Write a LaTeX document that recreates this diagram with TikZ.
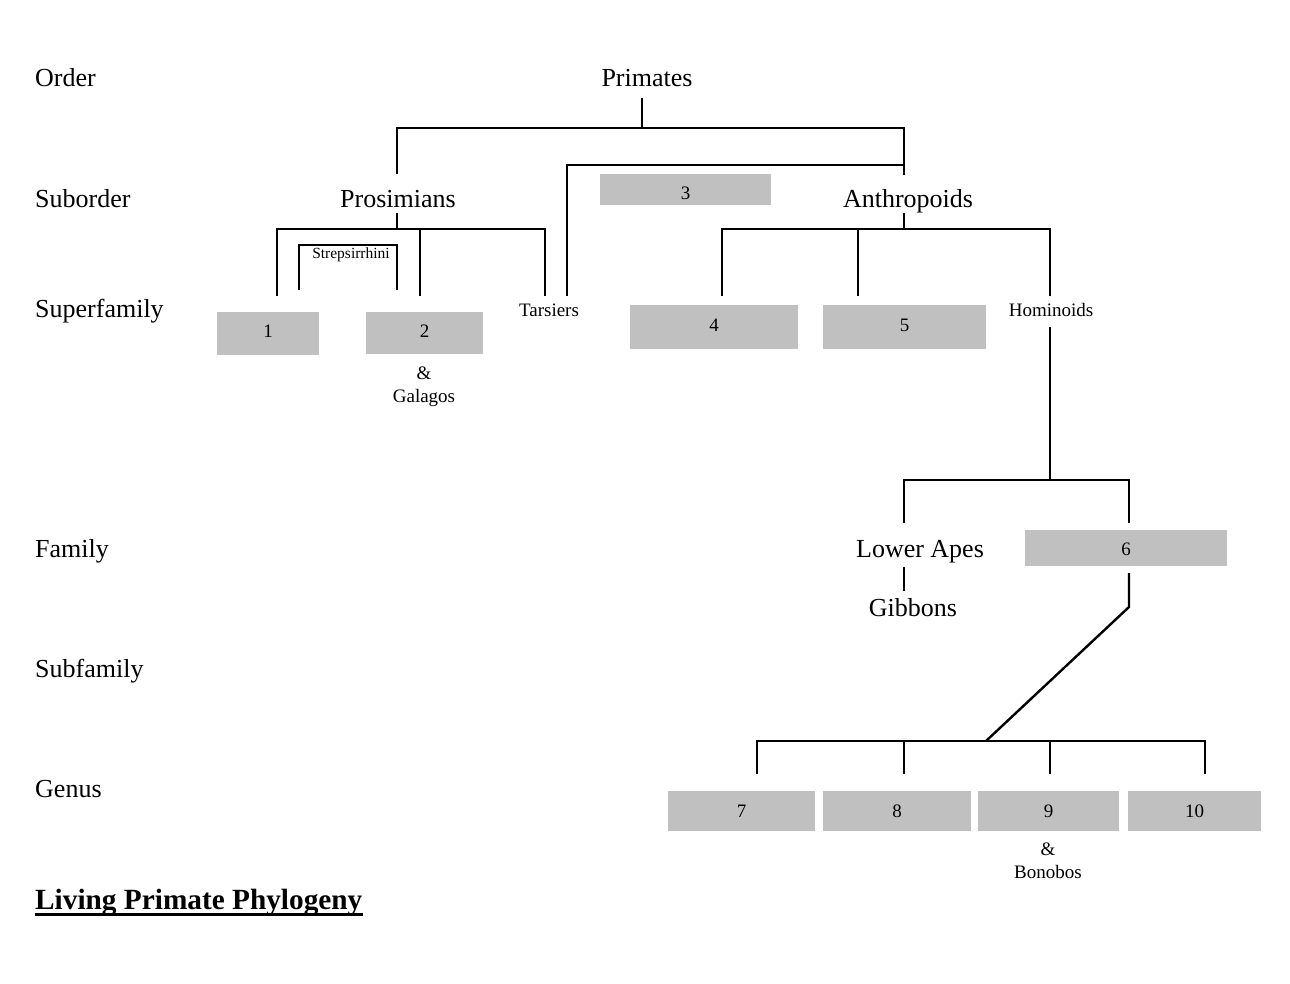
\documentclass[tikz,border=0pt]{standalone}
\usepackage{fontspec}
\setmainfont{Liberation Serif}
\begin{document}
\begin{tikzpicture}[x=1pt,y=-1pt,
  big/.style={font=\fontsize{26}{28}\selectfont, inner sep=0pt, anchor=base},
  small/.style={font=\fontsize{19}{22}\selectfont, inner sep=0pt, anchor=base},
  tiny/.style={font=\fontsize{15.5}{18}\selectfont, inner sep=0pt, anchor=base},
  rank/.style={big, anchor=base west},
  gbox/.style={fill=boxgray, draw=none, inner sep=0pt, font=\fontsize{19}{22}\selectfont, text depth=0pt},
  dshift/.style={text height={12.8pt+2*(#1)}},
  thk/.style={line width=2.4pt},
  thn/.style={line width=1.1pt}]
\definecolor{boxgray}{RGB}{192,192,192}
\useasboundingbox (0,0) rectangle (1290,984);
% rank labels (baselines)
\node[rank] (lOrder) at (35,87) {Order};
\node[rank] (lSub) at (35,208) {Suborder};
\node[rank] (lSuper) at (35,317) {Superfamily};
\node[rank] (lFam) at (35,557) {Family};
\node[rank] (lSubf) at (35,677) {Subfamily};
\node[rank] (lGen) at (35,797) {Genus};
\node[anchor=base west, inner sep=0pt, font=\fontsize{29.3}{32}\selectfont\bfseries] (title) at (35,909.5) {Living Primate Phylogeny};
\draw[line width=2.2pt] ([yshift=-5pt]title.base west) -- ([yshift=-5pt]title.base east);
% taxa
\node[big] (prim) at (647,87) {Primates};
\node[big] (pros) at (398,208) {Prosimians};
\node[big] (anth) at (908,208) {Anthropoids};
\node[small] (tars) at (549,316.3) {Tarsiers};
\node[small] (homi) at (1051,316.3) {Hominoids};
\node[big] (lape) at (920,557) {Lower Apes};
\node[big] (gibb) at (913,616) {Gibbons};
\node[tiny] (strep) at (351,258.1) {Strepsirrhini};
% boxes
\node[gbox, dshift=-2.5, minimum width=102pt, minimum height=43pt] (b1) at (268,333.5) {1};
\node[gbox, dshift=-2, minimum width=117pt, minimum height=42pt] (b2) at (424.5,333) {2};
\node[gbox, dshift=3.5, minimum width=171pt, minimum height=31pt] (b3) at (685.5,189.5) {3};
\node[gbox, dshift=-2, minimum width=168pt, minimum height=44pt] (b4) at (714,327) {4};
\node[gbox, dshift=-2, minimum width=163pt, minimum height=44pt] (b5) at (904.5,327) {5};
\node[gbox, dshift=1, minimum width=202pt, minimum height=36pt] (b6) at (1126,548) {6};
\node[gbox, dshift=0, minimum width=147pt, minimum height=40pt] (b7) at (741.5,811) {7};
\node[gbox, dshift=0, minimum width=148pt, minimum height=40pt] (b8) at (897,811) {8};
\node[gbox, dshift=0, minimum width=141pt, minimum height=40pt] (b9) at (1048.5,811) {9};
\node[gbox, dshift=0, minimum width=133pt, minimum height=40pt] (b10) at (1194.5,811) {10};
\node[small] (amp2) at (424,379.3) {\&};
\node[small] (gala) at (424,402.3) {Galagos};
\node[small] (amp9) at (1048,855.3) {\&};
\node[small] (bono) at (1048,878.3) {Bonobos};
% junction coordinates
\coordinate (jPrim) at (642,128);
\coordinate (jPros) at (397,229);
\coordinate (jAnth) at (904,229);
\coordinate (jHomi) at (1050,480);
\coordinate (jGen) at (986,741);
\coordinate (tEnd) at (567,296);
\coordinate (tTop) at (567,165);
\coordinate (aTop) at (904,165);
% Primates
\draw[thk] (642,98) -- (jPrim);
\draw[thk] (397,174) |- (jPrim) -| (904,175);
% Tarsier thin link to anthropoids
\draw[thn] (tEnd) -- (tTop) -- (aTop);
% Prosimians
\draw[thk] (397,213) -- (jPros);
\draw[thk] (277,296) |- (545,229) -- (545,296);
\draw[thk] (420,229) -- (420,296);
% Strepsirrhini bracket
\draw[thn] (299,290) |- (397,245) -- (397,290);
% Anthropoids
\draw[thk] (904,213) -- (jAnth);
\draw[thk] (722,296) |- (1050,229) -- (1050,296);
\draw[thk] (858,229) -- (858,296);
% Hominoids
\draw[thk] (1050,327) -- (jHomi);
\draw[thk] (904,523) |- (1129,480) -- (1129,523);
\draw[thk] (904,567) -- (904,591);
% to genera
\draw[thk] (1129,573) -- (1129,607) -- (jGen);
\draw[thk] (757,774) |- (1205,741) -- (1205,774);
\draw[thk] (904,741) -- (904,774);
\draw[thk] (1050,741) -- (1050,774);
\end{tikzpicture}
\end{document}
